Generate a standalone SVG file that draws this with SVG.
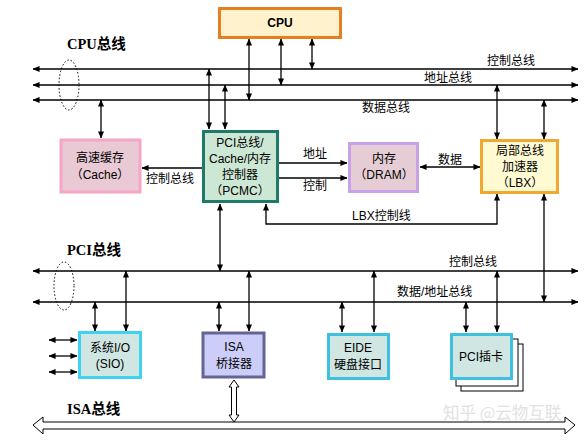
<svg xmlns="http://www.w3.org/2000/svg" width="587" height="441" viewBox="0 0 587 441">
<defs>
<marker id="ah" viewBox="0 0 8 8" refX="7.5" refY="4" markerWidth="7" markerHeight="7" markerUnits="userSpaceOnUse" orient="auto-start-reverse"><path d="M0,0.5 L8,4 L0,7.5 Z" fill="#000"/></marker>
</defs>
<style>
.ln{stroke:#000;stroke-width:1.3;fill:none}
.b2{marker-start:url(#ah);marker-end:url(#ah)}
.e{marker-end:url(#ah)}
.t{font-family:"Liberation Sans","Noto Sans CJK SC",sans-serif;font-size:12px;fill:#000}
.c{text-anchor:middle}
.bt{font-family:"Liberation Serif","Noto Sans CJK SC",serif;font-size:14.5px;font-weight:bold;fill:#000}
.el{fill:none;stroke:#000;stroke-width:1;stroke-dasharray:1.5,2}
</style>
<rect width="587" height="441" fill="#fff"/>

<g id="labels">
<text class="bt" x="67" y="49">CPU总线</text>
<text class="bt" x="67" y="255">PCI总线</text>
<text class="bt" x="67" y="414">ISA总线</text>
<text class="t" x="487" y="65">控制总线</text>
<text class="t" x="424" y="82">地址总线</text>
<text class="t" x="362" y="112">数据总线</text>
<text class="t" x="449" y="266">控制总线</text>
<text class="t" x="397" y="296">数据/地址总线</text>
<text class="t" x="146" y="183">控制总线</text>
<text class="t" x="303" y="158">地址</text>
<text class="t" x="303" y="190">控制</text>
<text class="t" x="438" y="164">数据</text>
<text class="t" x="352" y="220">LBX控制线</text>
<text x="443" y="419" style="font-family:'Noto Sans CJK SC',sans-serif;font-size:16.5px;fill:#e2e2e2">知乎 @云物互联</text>
</g>

<g id="connectors">
<ellipse class="el" cx="69" cy="85" rx="10" ry="25"/>
<ellipse class="el" cx="64" cy="286" rx="10" ry="24"/>
<line class="ln b2" x1="33" y1="69" x2="578" y2="69"/>
<line class="ln b2" x1="33" y1="85" x2="578" y2="85"/>
<line class="ln b2" x1="33" y1="100" x2="578" y2="100"/>
<line class="ln b2" x1="249" y1="39" x2="249" y2="100"/>
<line class="ln b2" x1="281" y1="39" x2="281" y2="85"/>
<line class="ln b2" x1="312" y1="39" x2="312" y2="69"/>
<line class="ln b2" x1="209" y1="69" x2="209" y2="129"/>
<line class="ln b2" x1="225" y1="85" x2="225" y2="129"/>
<line class="ln b2" x1="101" y1="100" x2="101" y2="138"/>
<line class="ln e" x1="202" y1="168" x2="142" y2="168"/>
<line class="ln e" x1="279" y1="163" x2="347" y2="163"/>
<line class="ln e" x1="279" y1="178" x2="347" y2="178"/>
<line class="ln b2" x1="420" y1="167" x2="480" y2="167"/>
<line class="ln b2" x1="497" y1="85" x2="497" y2="139"/>
<line class="ln b2" x1="544" y1="100" x2="544" y2="139"/>
<polyline class="ln b2" points="266,204 266,224 497,224 497,194"/>
<line class="ln b2" x1="220" y1="204" x2="220" y2="271"/>
<line class="ln b2" x1="544" y1="194" x2="544" y2="302"/>
<line class="ln b2" x1="33" y1="271" x2="578" y2="271"/>
<line class="ln b2" x1="33" y1="302" x2="578" y2="302"/>
<line class="ln b2" x1="95" y1="302" x2="95" y2="331"/>
<line class="ln b2" x1="126" y1="271" x2="126" y2="331"/>
<line class="ln b2" x1="49" y1="340" x2="77" y2="340"/>
<line class="ln b2" x1="49" y1="356" x2="77" y2="356"/>
<line class="ln b2" x1="49" y1="372" x2="77" y2="372"/>
<line class="ln b2" x1="219" y1="302" x2="219" y2="331"/>
<line class="ln b2" x1="249" y1="271" x2="249" y2="331"/>
<line class="ln b2" x1="342" y1="302" x2="342" y2="332"/>
<line class="ln b2" x1="374" y1="271" x2="374" y2="332"/>
<line class="ln b2" x1="466" y1="302" x2="466" y2="332"/>
<line class="ln b2" x1="497" y1="271" x2="497" y2="332"/>
<path d="M33,425 L43,417 L43,422 L565,422 L565,417 L575,425 L565,434 L565,429 L43,429 L43,434 Z" fill="#fff" stroke="#000" stroke-width="1"/>
<path d="M234,380 L239,387 L236.5,387 L236.5,415 L239,415 L234,422 L229,415 L231.5,415 L231.5,387 L229,387 Z" fill="#fff" stroke="#000" stroke-width="1"/>
</g>

<g id="cpu">
<rect x="219.5" y="8.5" width="121" height="29" fill="#fff2cc" stroke="#e67e22" stroke-width="3"/>
<text class="t c" x="280" y="27" style="font-weight:bold">CPU</text>
</g>

<g id="cache">
<rect x="61" y="140" width="79" height="52" fill="#e9c9d3" stroke="#f4a6c6" stroke-width="3"/>
<text class="t c" x="100" y="162">高速缓存</text>
<text class="t c" x="100" y="179">（Cache）</text>
</g>

<g id="pcmc">
<rect x="203.5" y="131.5" width="74" height="70" fill="#cce8d4" stroke="#1f7a6a" stroke-width="3"/>
<text class="t c" x="240" y="147">PCI总线/</text>
<text class="t c" x="240" y="163">Cache/内存</text>
<text class="t c" x="240" y="179">控制器</text>
<text class="t c" x="240" y="195">（PCMC）</text>
</g>

<g id="dram">
<rect x="349.5" y="143.5" width="68" height="48" fill="#e6ccd4" stroke="#c8a2e8" stroke-width="3"/>
<text class="t c" x="384" y="163">内存</text>
<text class="t c" x="384" y="179">（DRAM）</text>
</g>

<g id="lbx">
<rect x="481.5" y="140.5" width="76" height="52" fill="#fffad2" stroke="#f0a830" stroke-width="3"/>
<text class="t c" x="520" y="155">局部总线</text>
<text class="t c" x="520" y="171">加速器</text>
<text class="t c" x="520" y="187">（LBX）</text>
</g>

<g id="sio">
<rect x="79.5" y="332.5" width="61" height="45" fill="#cfe6e2" stroke="#3fd2f2" stroke-width="3"/>
<text class="t c" x="110" y="352">系统I/O</text>
<text class="t c" x="110" y="368">(SIO)</text>
</g>

<g id="isa">
<rect x="203" y="333" width="61" height="44" fill="#cccdf8" stroke="#646496" stroke-width="3"/>
<text class="t c" x="234" y="351">ISA</text>
<text class="t c" x="234" y="368">桥接器</text>
</g>

<g id="eide">
<rect x="328.5" y="334.5" width="60" height="44" fill="#cfe6e2" stroke="#40c0e0" stroke-width="3"/>
<text class="t c" x="358" y="352">EIDE</text>
<text class="t c" x="358" y="369">硬盘接口</text>
</g>

<g id="pcicard">
<rect x="461" y="344" width="62" height="47" fill="#fff" stroke="#000" stroke-width="1"/>
<rect x="456" y="339" width="62" height="47" fill="#fff" stroke="#000" stroke-width="1"/>
<rect x="451.5" y="334.5" width="60" height="44" fill="#cfe6e2" stroke="#40c0e0" stroke-width="3"/>
<text class="t c" x="481" y="361">PCI插卡</text>
</g>
</svg>
